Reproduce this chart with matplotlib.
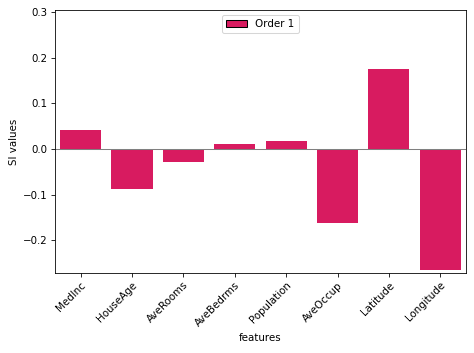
import matplotlib
matplotlib.use("Agg")
import matplotlib.pyplot as plt
from matplotlib.patches import Patch

features = ["MedInc", "HouseAge", "AveRooms", "AveBedrms", "Population",
            "AveOccup", "Latitude", "Longitude"]
si_order1 = [0.041, -0.087, -0.028, 0.011, 0.017, -0.162, 0.175, -0.264]

color = "#d81b60"

dpi = 74
fig, ax = plt.subplots(figsize=(474 / dpi, 353 / dpi), dpi=dpi)
fig.subplots_adjust(left=0.116, right=0.983, top=0.972, bottom=0.227)

x = range(len(features))
ax.bar(x, si_order1, width=0.8, color=color, edgecolor="none")
ax.axhline(0, color="grey", lw=1)

ax.set_xticks(list(x))
ax.set_xticklabels(features, rotation=45, ha="right", rotation_mode="anchor")
ax.set_xlim(-0.5, len(features) - 0.5)
ax.set_ylim(-0.271, 0.305)
ax.set_yticks([-0.2, -0.1, 0.0, 0.1, 0.2, 0.3])
ax.set_xlabel("features")
ax.set_ylabel("SI values")

ax.legend(handles=[Patch(facecolor=color, edgecolor="black", label="Order 1")],
          loc="upper center")

plt.savefig("out.png", dpi=dpi)
